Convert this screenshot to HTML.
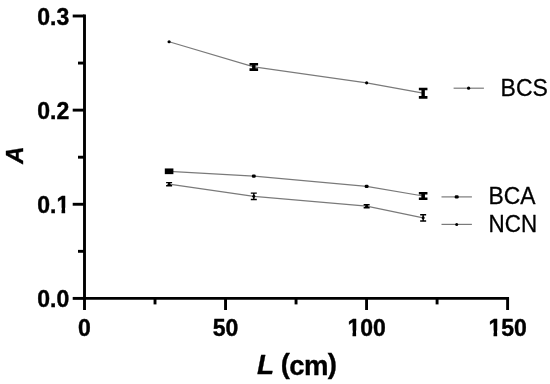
<!DOCTYPE html>
<html><head><meta charset="utf-8"><title>Chart</title>
<style>
html,body{margin:0;padding:0;background:#fff;}
body{width:550px;height:384px;overflow:hidden;}
svg{display:block;}
text{font-family:"Liberation Sans",Arial,Helvetica,sans-serif;fill:#000;}
.tk{font-weight:bold;font-size:23px;stroke:#000;stroke-width:0.4px;stroke-linejoin:round;}
.lg{font-size:23.2px;stroke:#000;stroke-width:0.3px;stroke-linejoin:round;}
.ttl{font-weight:bold;font-size:27.5px;stroke:#000;stroke-width:0.35px;stroke-linejoin:round;}
</style></head><body>
<svg width="550" height="384" viewBox="0 0 550 384">
<rect width="550" height="384" fill="#fff"/>

<g stroke="#000" stroke-width="2.9" fill="none" stroke-linecap="butt">
<path d="M84.5 14.55 V299.85"/>
<path d="M83.05 298.4 H509.05"/>
<path d="M72.70 298.40 H84.5"/>
<path d="M78.00 251.33 H84.5"/>
<path d="M72.70 204.27 H84.5"/>
<path d="M78.00 157.20 H84.5"/>
<path d="M72.70 110.13 H84.5"/>
<path d="M78.00 63.07 H84.5"/>
<path d="M72.70 16.00 H84.5"/>
<path d="M84.50 298.4 V310.00"/>
<path d="M155.02 298.4 V304.40"/>
<path d="M225.53 298.4 V310.00"/>
<path d="M296.05 298.4 V304.40"/>
<path d="M366.57 298.4 V310.00"/>
<path d="M437.08 298.4 V304.40"/>
<path d="M507.60 298.4 V310.00"/>
</g>
<text class="tk" x="37.23" y="306.90">0.0</text>
<clipPath id="ck1"><path clip-rule="evenodd" d="M34.23 190.77H72.20V216.77H34.23ZM55.91 207.77H61.58V215.77H55.91ZM65.13 207.77H69.50V215.77H65.13Z"/></clipPath>
<text class="tk" x="37.23" y="212.77" clip-path="url(#ck1)">0.1</text>
<text class="tk" x="37.23" y="118.63">0.2</text>
<text class="tk" x="37.23" y="24.50">0.3</text>
<text class="tk" x="78.10" y="335.60">0</text>
<text class="tk" x="212.74" y="335.60">50</text>
<clipPath id="ck2"><path clip-rule="evenodd" d="M344.38 313.60H388.75V339.60H344.38ZM346.88 330.60H352.55V338.60H346.88ZM356.10 330.60H360.47V338.60H356.10Z"/></clipPath>
<text class="tk" x="347.38" y="335.60" clip-path="url(#ck2)">100</text>
<clipPath id="ck3"><path clip-rule="evenodd" d="M485.41 313.60H529.79V339.60H485.41ZM487.91 330.60H493.58V338.60H487.91ZM497.14 330.60H501.50V338.60H497.14Z"/></clipPath>
<text class="tk" x="488.41" y="335.60" clip-path="url(#ck3)">150</text>
<text class="ttl" x="257.1" y="374.2"><tspan style="font-style:italic;font-size:28px">L</tspan> <tspan x="280.8" y="373.2" style="letter-spacing:-0.62px">(</tspan><tspan dy="1.3" style="letter-spacing:-0.62px">cm</tspan><tspan dy="-1.3">)</tspan></text>
<text class="ttl" style="font-size:24px;font-style:italic" transform="translate(22.6,163.8) rotate(-90)">A</text>
<path d="M169.10 41.75 L253.80 66.90 L366.65 82.80 L423.15 93.20" stroke="#7a7a7a" stroke-width="1.2" fill="none"/>
<path d="M169.10 171.30 L253.80 176.10 L366.65 186.40 L423.15 196.00" stroke="#7a7a7a" stroke-width="1.2" fill="none"/>
<path d="M169.10 184.20 L253.80 196.30 L366.65 206.20 L423.15 217.85" stroke="#7a7a7a" stroke-width="1.2" fill="none"/>
<circle cx="169.10" cy="41.75" r="1.6" fill="#000"/>
<path d="M249.50 62.90H258.10V65.50H255.50V68.30H258.10V70.90H249.50V68.30H252.10V65.50H249.50Z" fill="#000"/>
<circle cx="366.65" cy="82.80" r="1.6" fill="#000"/>
<path d="M418.85 87.70H427.45V90.30H424.85V96.10H427.45V98.70H418.85V96.10H421.45V90.30H418.85Z" fill="#000"/>
<rect x="164.80" y="168.45" width="8.6" height="5.7" fill="#000"/>
<rect x="251.85" y="174.45" width="3.9" height="3.3" rx="1.3" fill="#000"/>
<rect x="364.70" y="184.75" width="3.9" height="3.3" rx="1.3" fill="#000"/>
<path d="M418.85 191.90H427.45V194.50H424.95V197.50H427.45V200.10H418.85V197.50H421.35V194.50H418.85Z" fill="#000"/>
<path d="M166.10 181.90H172.10V183.35H169.82V184.95H172.10V186.40H166.10V184.95H168.38V183.35H166.10Z" fill="#000"/>
<circle cx="169.10" cy="184.20" r="1.5" fill="#000"/>
<path d="M250.80 192.40H256.80V193.85H254.53V198.85H256.80V200.30H250.80V198.85H253.08V193.85H250.80Z" fill="#000"/>
<circle cx="253.80" cy="196.30" r="1.5" fill="#000"/>
<path d="M363.65 204.00H369.65V205.45H367.38V206.95H369.65V208.40H363.65V206.95H365.92V205.45H363.65Z" fill="#000"/>
<circle cx="366.65" cy="206.20" r="1.5" fill="#000"/>
<path d="M420.15 214.00H426.15V215.45H423.88V220.25H426.15V221.70H420.15V220.25H422.42V215.45H420.15Z" fill="#000"/>
<circle cx="423.15" cy="217.85" r="1.5" fill="#000"/>
<path d="M453.6 88.2 H483.9" stroke="#7a7a7a" stroke-width="1.2"/><circle cx="468.6" cy="88.2" r="1.6" fill="#000"/>
<text class="lg" transform="translate(500.6,96.1) scale(0.99,1)">BCS</text>
<path d="M441.5 196.9 H471.9" stroke="#7a7a7a" stroke-width="1.2"/><rect x="454.7" y="195.2" width="4.0" height="3.4" rx="1.3" fill="#000"/>
<text class="lg" transform="translate(488.6,204.4) scale(0.985,1)">BCA</text>
<path d="M441.5 224.4 H471.9" stroke="#7a7a7a" stroke-width="1.2"/><circle cx="456.7" cy="224.4" r="1.5" fill="#000"/>
<text class="lg" transform="translate(488.6,231.7) scale(0.965,1)">NCN</text>
</svg></body></html>
